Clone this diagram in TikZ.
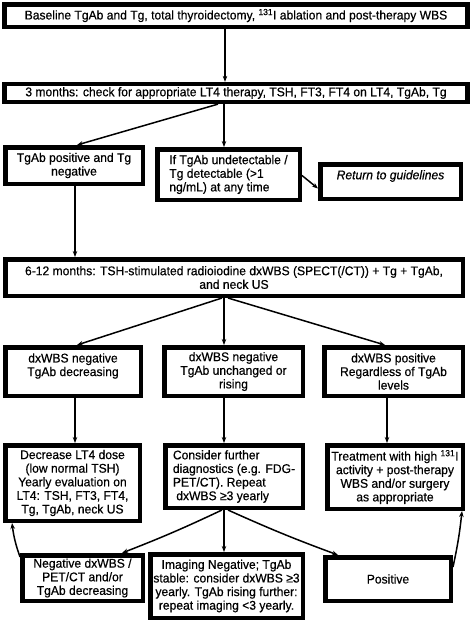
\documentclass[tikz,border=0pt]{standalone}
\usepackage{fontspec}
\setmainfont{Liberation Sans}[FakeBold=0.5,FakeStretch=0.96]
\usetikzlibrary{arrows.meta,calc}
\begin{document}
\begin{tikzpicture}[x=1pt,y=-1pt,
  flowbox/.style={draw=black, line width=4.5pt, inner sep=2.4pt, align=center,
    font=\fontsize{12.6}{13.6}\selectfont},
  arr/.style={-{Stealth[length=6pt,width=4.5pt]}, line width=1.5pt}]
\useasboundingbox[fill=white] (0,0) rectangle (474,640);
% row 1-2
\node[flowbox, minimum width=463pt, minimum height=22.5pt] (b1) at (236,15.5)
  {Baseline TgAb and Tg, total thyroidectomy, \textsuperscript{131}I ablation and post-therapy WBS};
\node[flowbox, minimum width=463pt, minimum height=17pt, inner ysep=3pt] (b2) at (236,93)
  {3 months: check for appropriate LT4 therapy, TSH, FT3, FT4 on LT4, TgAb, Tg};
% row 3
\node[flowbox, minimum width=137.5pt, minimum height=36.5pt] (b3) at (74,165.5)
  {TgAb positive and Tg\\negative};
\node[flowbox, minimum width=142.5pt, minimum height=50.5pt, align=left] (b4) at (228.5,174.5)
  {If TgAb undetectable /\\Tg detectable (>1\\ng/mL) at any time\hspace{8pt}};
\node[flowbox, minimum width=140.5pt, minimum height=34.5pt, align=left] (b5) at (390.5,181.5)
  {\itshape Return to guidelines\hspace{25pt}\\\mbox{}};
% row 4
\node[flowbox, minimum width=457.5pt, minimum height=36.5pt] (b6) at (234,277.5)
  {6-12 months: TSH-stimulated radioiodine dxWBS (SPECT(/CT)) + Tg + TgAb,\\and neck US};
% row 5
\node[flowbox, minimum width=135.5pt, minimum height=48.5pt] (b7) at (73,371.5)
  {dxWBS negative\\TgAb decreasing\\\mbox{}};
\node[flowbox, minimum width=138.5pt, minimum height=48.5pt] (b8) at (233.5,371.5)
  {dxWBS negative\\TgAb unchanged or\\rising};
\node[flowbox, minimum width=138.5pt, minimum height=48.5pt] (b9) at (393.5,371.5)
  {dxWBS positive\\Regardless of TgAb\\levels};
% row 6
\node[flowbox, minimum width=134.5pt, minimum height=75.5pt] (b10) at (72.5,483)
  {Decrease LT4 dose\\(low normal TSH)\\Yearly evaluation on\\LT4: TSH, FT3, FT4,\\Tg, TgAb, neck US};
\node[flowbox, minimum width=137.5pt, minimum height=62.5pt, align=left] (b11) at (234,476.5)
  {Consider further\\diagnostics (e.g. FDG-\\PET/CT). Repeat\\\ dxWBS ≥3 yearly};
\node[flowbox, minimum width=135.5pt, minimum height=63.5pt] (b12) at (395,477)
  {Treatment with high \textsuperscript{131}I\\activity + post-therapy\\WBS and/or surgery\\as appropriate};
% row 7
\node[flowbox, minimum width=120.5pt, minimum height=45.5pt] (b13) at (82.5,578)
  {Negative dxWBS /\\PET/CT and/or\\TgAb decreasing};
\node[flowbox, minimum width=152.5pt, minimum height=63.5pt] (b14) at (226.5,586)
  {Imaging Negative; TgAb\\stable: consider dxWBS ≥3\\yearly. TgAb rising further:\\repeat imaging <3 yearly.};
\node[flowbox, minimum width=125.5pt, minimum height=43.5pt] (b15) at (388,579)
  {Positive};
% connectors
\draw[arr] (b1.south -| 225,0) -- (b2.north -| 225,0);
\draw[arr] (b2.south -| 218,0) -- (b3.north -| 77,0);
\draw[arr] (b2.south -| 224,0) -- (b4.north -| 224,0);
\draw[arr] ($(b4.east)+(0,1)$) -- ($(b5.west)+(0,7)$);
\draw[arr] (b3.south -| 75,0) -- (b6.north -| 75,0);
\draw[arr] (b6.south -| 222,0) -- (b7.north -| 77,0);
\draw[arr] (b6.south -| 224,0) -- (b8.north -| 224,0);
\draw[arr] (b6.south -| 228,0) -- (b9.north -| 385,0);
\draw[arr] (b7.south -| 75,0) -- (b10.north -| 75,0);
\draw[arr] (b8.south -| 224,0) -- (b11.north -| 224,0);
\draw[arr] (b9.south -| 387,0) -- (b12.north -| 387,0);
\draw[arr] (b11.south -| 222,0) to[bend left=2] (b13.north -| 122,0);
\draw[arr] (b11.south -| 224,0) -- (b14.north -| 224,0);
\draw[arr] (b11.south -| 228,0) to[bend right=2] (b15.north -| 338,0);
\draw[arr] ($(b13.north west)+(0,4)$) to[bend left=6] (b10.south -| 12,0);
\draw[arr] ($(b15.east)+(0,-12)$) to[bend right=3] (b12.south -| 462,0);
\end{tikzpicture}
\end{document}
